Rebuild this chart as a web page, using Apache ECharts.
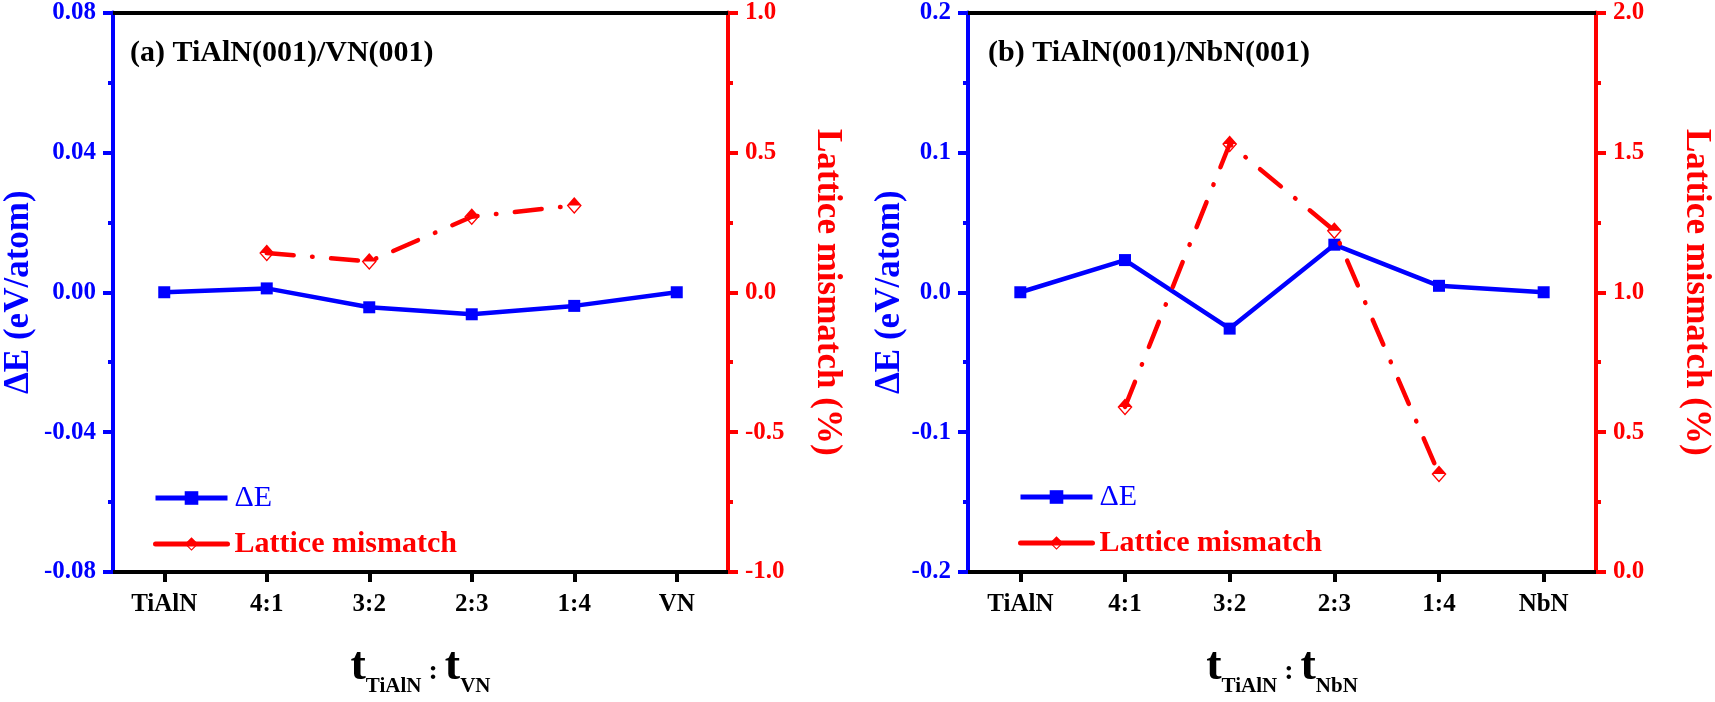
<!DOCTYPE html>
<html>
<head>
<meta charset="utf-8">
<script src="https://cdn.jsdelivr.net/npm/echarts@6/dist/echarts.min.js"></script>
<style>
html,body{margin:0;padding:0;background:#fff;}
#c{width:1715px;height:702px;}
</style>
</head>
<body>
<div id="c"></div>
<script>
// ---- data ----
const categoriesA = ['TiAlN', '4:1', '3:2', '2:3', '1:4', 'VN'];
const deltaEA = [0, 0.0011, -0.0043, -0.0063, -0.0039, 0];
const mismatchA = [null, 0.14, 0.11, 0.27, 0.31, null];

const categoriesB = ['TiAlN', '4:1', '3:2', '2:3', '1:4', 'NbN'];
const deltaEB = [0, 0.023, -0.026, 0.034, 0.0046, 0];
const mismatchB = [null, 0.59, 1.53, 1.22, 0.35, null];

const leftRangeA = [-0.08, 0.08, 0.04];
const rightRangeA = [-1.0, 1.0, 0.5];
const leftRangeB = [-0.2, 0.2, 0.1];
const rightRangeB = [0.0, 2.0, 0.5];

const titles = ['(a) TiAlN(001)/VN(001)', '(b) TiAlN(001)/NbN(001)'];
const seriesNames = ['\u0394E', 'Lattice mismatch'];
const leftAxisName = '\u0394E (eV/atom)';
const rightAxisName = 'Lattice mismatch (%)';
const xNameA = ['TiAlN', 'VN'];
const xNameB = ['TiAlN', 'NbN'];

// ---- styles ----
const FONT = "'Liberation Serif', 'Times New Roman', serif";
const BLUE = '#0000FF';
const RED = '#FF0000';
// half-filled diamond: top half solid, bottom half outlined
const DIAMOND = 'path://M5,0L10,5L5,10L0,5Z M1.2,5L5,8.8L8.8,5Z';

const chart = echarts.init(document.getElementById('c'), null, {renderer: 'canvas'});

function xNameText(sub1, sub2) {
  return '{t|t}{s|' + sub1 + '}{c| : }{t|t}{s|' + sub2 + '}';
}
const xNameRich = {
  t: {fontSize: 46, fontWeight: 'bold', fontFamily: FONT, color: '#000', verticalAlign: 'top'},
  s: {fontSize: 21, fontWeight: 'bold', fontFamily: FONT, color: '#000', verticalAlign: 'top', padding: [32, 0, 0, 0]},
  c: {fontSize: 28, fontWeight: 'bold', fontFamily: FONT, color: '#000', verticalAlign: 'top', padding: [14, 0, 0, 0]}
};

function catAxis(gridIndex, cats, names) {
  return {
    type: 'category', gridIndex: gridIndex, data: cats, position: 'bottom',
    boundaryGap: true,
    name: xNameText(names[0], names[1]),
    nameLocation: 'middle', nameGap: 72,
    nameTextStyle: {rich: xNameRich},
    axisLine: {show: true, onZero: false, lineStyle: {color: '#000', width: 4}},
    axisTick: {show: true, alignWithLabel: true, inside: false, length: 10, lineStyle: {color: '#000', width: 4}},
    axisLabel: {margin: 20, fontSize: 25, fontWeight: 'bold', fontFamily: FONT, color: '#000'},
    splitLine: {show: false}
  };
}
function topAxis(gridIndex, cats) {
  return {
    type: 'category', gridIndex: gridIndex, data: cats, position: 'top',
    axisLine: {show: true, onZero: false, lineStyle: {color: '#000', width: 4}},
    axisTick: {show: false}, axisLabel: {show: false}, splitLine: {show: false}
  };
}
function valAxis(gridIndex, range, pos, color, decimals, name, nameGap, nameRotate) {
  return {
    type: 'value', gridIndex: gridIndex, position: pos,
    min: range[0], max: range[1], interval: range[2],
    name: name, nameLocation: 'middle', nameGap: nameGap, nameRotate: nameRotate,
    nameTextStyle: {fontSize: 35, fontWeight: 'bold', fontFamily: FONT, color: color},
    axisLine: {show: true, onZero: false, lineStyle: {color: color, width: 4}},
    axisTick: {show: true, inside: false, length: 10, lineStyle: {color: color, width: 4}},
    minorTick: {show: true, splitNumber: 2, length: 5, lineStyle: {color: color, width: 4}},
    axisLabel: {margin: 17, fontSize: 25, fontWeight: 'bold', fontFamily: FONT, color: color,
      formatter: function (v) { return v.toFixed(decimals); }},
    splitLine: {show: false}
  };
}
function deltaSeries(xi, yi, data) {
  return {
    name: seriesNames[0], type: 'line', xAxisIndex: xi, yAxisIndex: yi, data: data,
    symbol: 'rect', symbolSize: 12, color: BLUE,
    lineStyle: {color: BLUE, width: 4.5},
    itemStyle: {color: BLUE, borderWidth: 0},
    z: 3
  };
}
function mismatchSeries(xi, yi, data) {
  return {
    name: seriesNames[1], type: 'line', xAxisIndex: xi, yAxisIndex: yi, data: data,
    symbol: DIAMOND, symbolSize: [15, 17], color: RED, connectNulls: false,
    lineStyle: {color: RED, width: 4.5, type: [27, 18.5, 0.5, 18.5], cap: 'round'},
    itemStyle: {color: RED, borderWidth: 0},
    z: 4
  };
}
function legend(left, top) {
  return {
    orient: 'vertical', left: left, top: top,
    itemWidth: 72, itemHeight: 17, itemGap: 16,
    lineStyle: {type: 'solid', width: 5},
    data: [
      {name: seriesNames[0], textStyle: {color: BLUE, fontWeight: 'normal'}},
      {name: seriesNames[1], textStyle: {color: RED, fontWeight: 'bold'}}
    ],
    textStyle: {fontSize: 30, fontFamily: FONT, fontWeight: 'bold', padding: [0, 0, 0, 2]},
    selectedMode: false
  };
}

const option = {
  animation: false,
  backgroundColor: '#fff',
  title: [
    {text: titles[0], left: 125, top: 33, textStyle: {fontSize: 30, fontWeight: 'bold', fontFamily: FONT, color: '#000'}},
    {text: titles[1], left: 983, top: 33, textStyle: {fontSize: 30, fontWeight: 'bold', fontFamily: FONT, color: '#000'}}
  ],
  legend: [legend(148, 478), legend(1013, 477)],
  grid: [
    {left: 110, right: 987, top: 12, bottom: 114, containLabel: false},
    {left: 968, right: 116, top: 12, bottom: 113, containLabel: false}
  ],
  xAxis: [
    catAxis(0, categoriesA, xNameA), topAxis(0, categoriesA),
    catAxis(1, categoriesB, xNameB), topAxis(1, categoriesB)
  ],
  yAxis: [
    valAxis(0, leftRangeA, 'left', BLUE, 2, leftAxisName, 77, 90),
    valAxis(0, rightRangeA, 'right', RED, 1, rightAxisName, 82, -90),
    valAxis(1, leftRangeB, 'left', BLUE, 1, leftAxisName, 59, 90),
    valAxis(1, rightRangeB, 'right', RED, 1, rightAxisName, 83, -90)
  ],
  series: [
    deltaSeries(0, 0, deltaEA),
    mismatchSeries(0, 1, mismatchA),
    deltaSeries(2, 2, deltaEB),
    mismatchSeries(2, 3, mismatchB)
  ]
};
chart.setOption(option);
</script>
</body>
</html>
